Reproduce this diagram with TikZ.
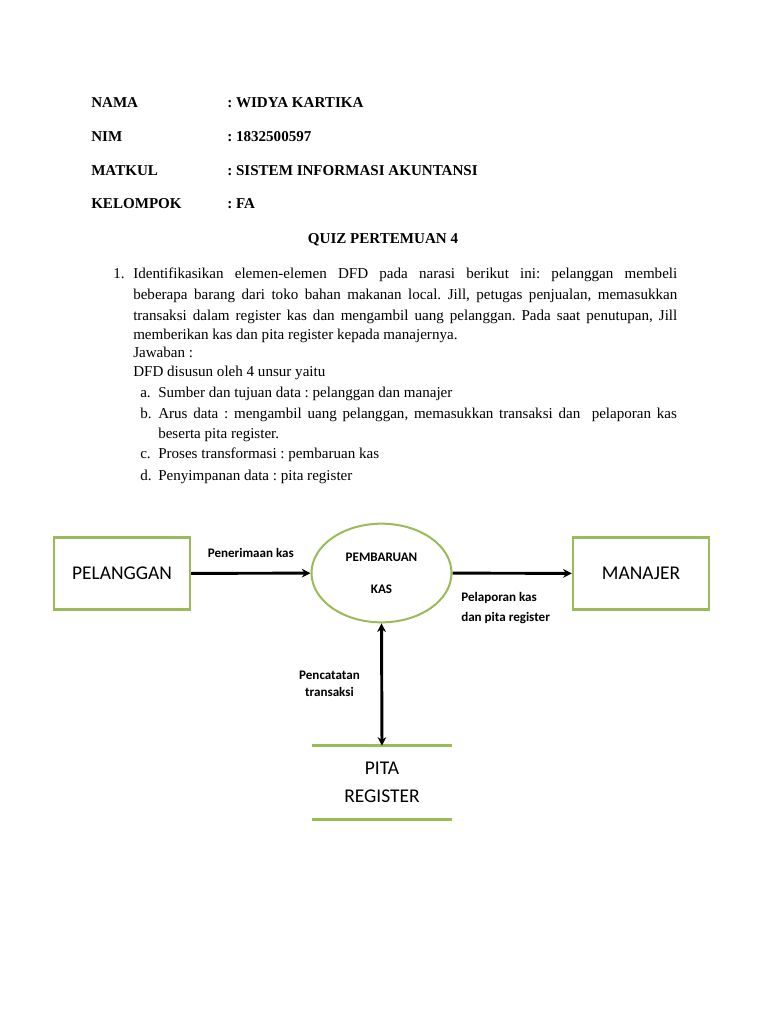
\documentclass[tikz,border=0pt]{standalone}
\usepackage{fontspec}
\setmainfont{Liberation Serif}
\newfontfamily\calibri{Carlito}
\usepackage{tikz}
\usetikzlibrary{positioning,shapes.geometric,arrows.meta}
\definecolor{leaf}{HTML}{9BBB59}
\newcommand\jline[2]{\makebox[#1][s]{#2}}
\frenchspacing
\tikzset{
  hd/.style={anchor=base west,inner sep=0pt,font=\fontsize{11.3}{13}\selectfont\bfseries},
  txt/.style={anchor=base west,inner sep=0pt,font=\fontsize{11.3}{13}\selectfont},
  ent/.style={rectangle,draw=leaf,line width=1.8pt,minimum width=102pt,
    minimum height=54pt,font=\calibri\fontsize{14.6}{17}\selectfont},
  proc/.style={ellipse,draw=leaf,line width=1.5pt,minimum width=105pt,
    minimum height=74pt,align=center,inner sep=0pt,
    font=\calibri\bfseries\fontsize{9.8}{24}\selectfont},
  store/.style={rectangle,minimum width=104pt,minimum height=54.75pt,align=center,
    font=\calibri\fontsize{14.6}{21}\selectfont},
  lbl/.style={font=\calibri\bfseries\fontsize{9.8}{15}\selectfont,inner sep=0pt},
  fl/.style={-{Stealth[length=6.5pt,width=6.5pt]},line width=2.2pt},
  fl2/.style={{Stealth[length=6.5pt,width=6.5pt]}-{Stealth[length=6.5pt,width=6.5pt]},line width=2.2pt},
}
\begin{document}
\begin{tikzpicture}[x=0.75pt,y=-0.75pt]
  \fill[white] (0,0) rectangle (768,1024);
  \useasboundingbox (0,0) rectangle (768,1024);
  % identitas
  \node[hd] (nama) at (91,108) {NAMA};
  \node[hd] (namav) at (227,108) {: WIDYA KARTIKA};
  \node[hd] (nim) at (91,142) {NIM};
  \node[hd] (nimv) at (227,142) {: 1832500597};
  \node[hd] (mk) at (91,175) {MATKUL};
  \node[hd] (mkv) at (227,175) {: SISTEM INFORMASI AKUNTANSI};
  \node[hd] (kel) at (91,208) {KELOMPOK};
  \node[hd] (kelv) at (227,208) {: FA};
  \node[hd,anchor=base] (judul) at (383,243) {QUIZ PERTEMUAN 4};
  % soal dan jawaban
  \node[txt] (no1) at (113,278) {1.};
  \node[txt] (l1) at (133,278) {\jline{408pt}{Identifikasikan elemen-elemen DFD pada narasi berikut ini: pelanggan membeli}};
  \node[txt] (l2) at (133,299) {\jline{408pt}{beberapa barang dari toko bahan makanan local. Jill, petugas penjualan, memasukkan}};
  \node[txt] (l3) at (133,320) {\jline{408pt}{transaksi dalam register kas dan mengambil uang pelanggan. Pada saat penutupan, Jill}};
  \node[txt] (l4) at (133,339) {memberikan kas dan pita register kepada manajernya.};
  \node[txt] (l5) at (133,357) {Jawaban :};
  \node[txt] (l6) at (133,376) {DFD disusun oleh 4 unsur yaitu};
  \node[txt] (pa) at (140,397) {a.};
  \node[txt] (ia) at (158,397) {Sumber dan tujuan data : pelanggan dan manajer};
  \node[txt] (pb) at (140,418) {b.};
  \node[txt] (ib) at (158,418) {\jline{389pt}{Arus data : mengambil uang pelanggan, memasukkan transaksi dan\ \ pelaporan kas}};
  \node[txt] (ib2) at (158,438) {beserta pita register.};
  \node[txt] (pc) at (140,458) {c.};
  \node[txt] (ic) at (158,458) {Proses transformasi : pembaruan kas};
  \node[txt] (pd) at (140,480) {d.};
  \node[txt] (id) at (158,480) {Penyimpanan data : pita register};
  % diagram arus data
  \node[ent] (pelanggan) at (122,573.5) {PELANGGAN};
  \node[proc] (proses) at (381.5,573) {PEMBARUAN\\KAS};
  \node[ent] (manajer) at (641,573.5) {MANAJER};
  \node[store] (pita) at (382,782.5) {PITA\\REGISTER};
  \draw[leaf,line width=2.5pt] (pita.north west) -- (pita.north east);
  \draw[leaf,line width=2.5pt] (pita.south west) -- (pita.south east);
  \draw[fl] (pelanggan) -- (proses) node[lbl,midway,above=11pt] (terima) {Penerimaan kas};
  \draw[fl] (proses) -- (manajer);
  \node[lbl,align=left,anchor=north west] (lapor) at (461,592) {Pelaporan kas\\dan pita register};
  \draw[fl2] (proses.south) -- (pita.north);
  \node[lbl,align=center,font=\calibri\bfseries\fontsize{9.8}{12.75}\selectfont] (catat) at (329.5,683.5) {Pencatatan\\transaksi};
\end{tikzpicture}
\end{document}
